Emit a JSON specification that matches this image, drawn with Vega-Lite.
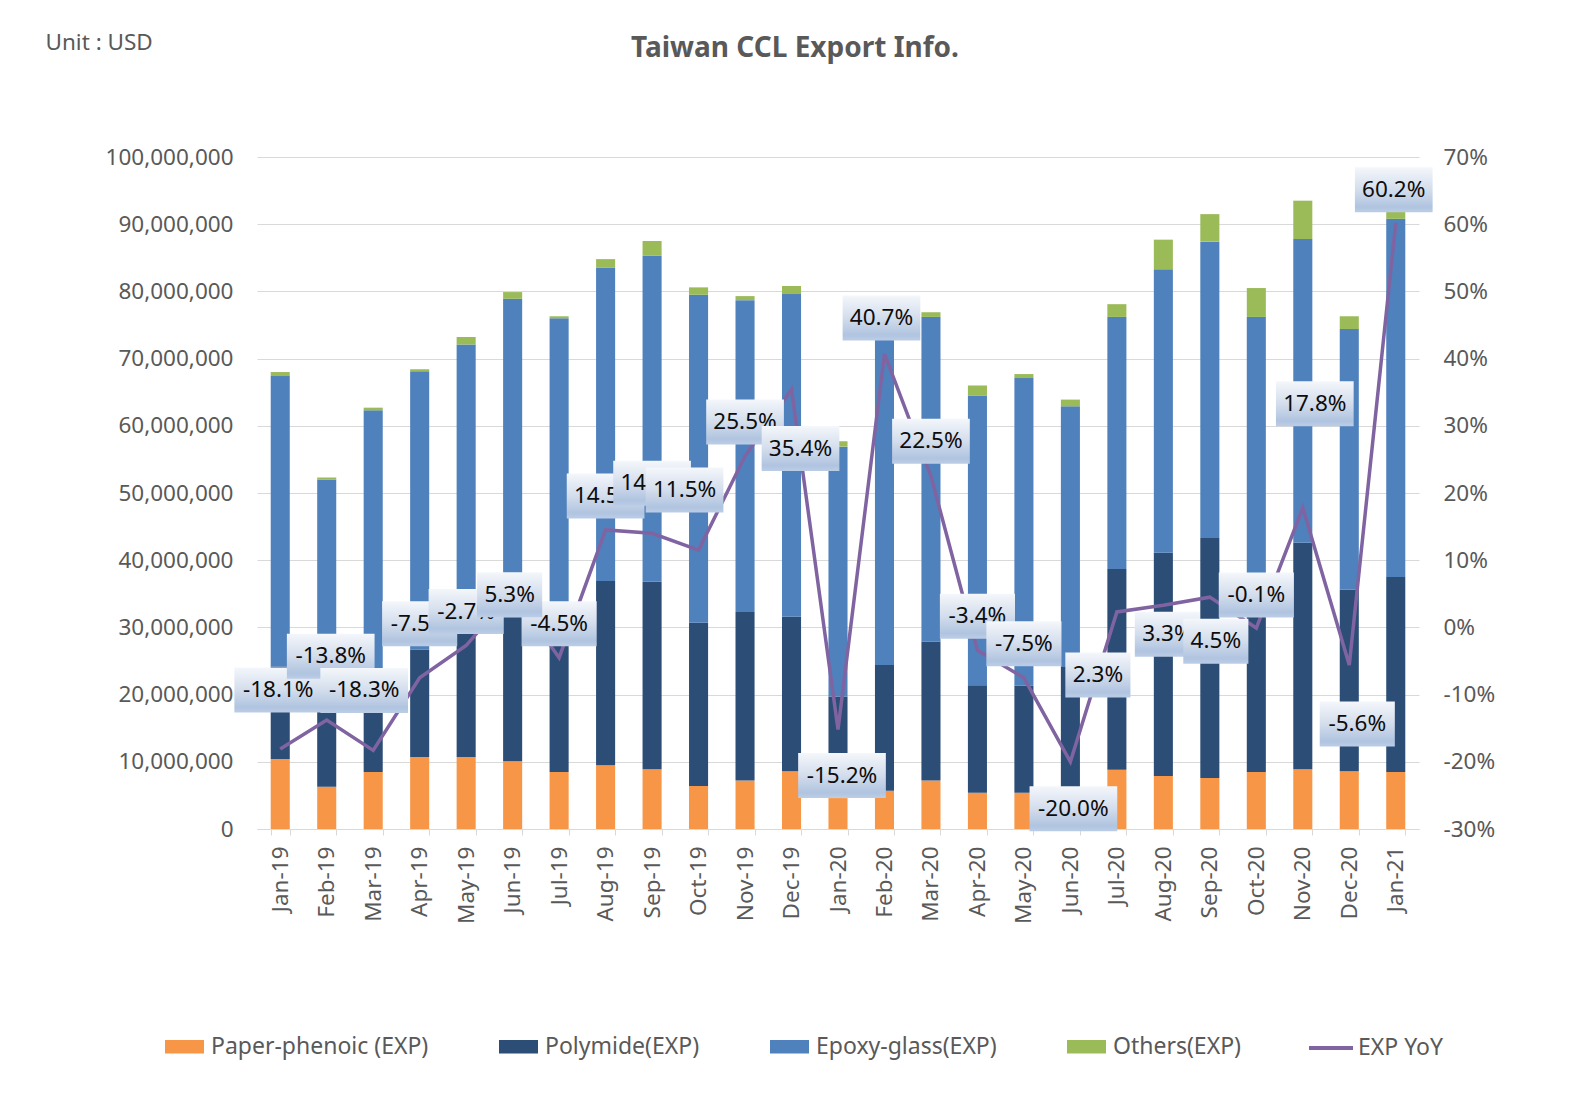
{
  "$schema": "https://vega.github.io/schema/vega-lite/v6.json",
  "width": 1162,
  "height": 672,
  "autosize": {"type": "none"},
  "padding": {"left": 257, "top": 157, "right": 176, "bottom": 267},
  "background": "white",
  "params": [
    {
      "name": "labelShift",
      "value": {
        "Jan-19": -59, "Feb-19": -64, "Mar-19": -60, "Apr-19": -54, "May-19": -34, "Jun-19": 3,
        "Jul-19": -34, "Aug-19": -34, "Sep-19": -50, "Oct-19": -60, "Nov-19": -34, "Dec-19": 59,
        "Jan-20": 46, "Feb-20": -36, "Mar-20": -35, "Apr-20": -34, "May-20": -34, "Jun-20": 47,
        "Jul-20": 63, "Aug-20": 29, "Sep-20": 44, "Oct-20": -33, "Nov-20": -104, "Dec-20": 59,
        "Jan-21": -33
      }
    },
    {
      "name": "labelNudge",
      "value": {
        "Jan-19": -2, "Feb-19": 4, "Mar-19": -9, "Apr-19": 0, "May-19": 0, "Jun-19": -3,
        "Jul-19": 0, "Aug-19": 0, "Sep-19": 0, "Oct-19": -14, "Nov-19": 0, "Dec-19": 9,
        "Jan-20": 4, "Feb-20": -3, "Mar-20": 0, "Apr-20": 0, "May-20": 0, "Jun-20": 3,
        "Jul-20": -19, "Aug-20": 4, "Sep-20": 6, "Oct-20": 0, "Nov-20": 12, "Dec-20": 8,
        "Jan-21": -2
      }
    }
  ],
  "title": {
    "text": "Taiwan CCL Export Info.",
    "anchor": "middle",
    "frame": "group",
    "dx": -43,
    "dy": 52,
    "fontSize": 28,
    "fontWeight": "bold",
    "color": "#595959",
    "offset": 20
  },
  "datasets": {
    "exports": [
      {"month": "Jan-19", "type": "Paper-phenoic (EXP)", "usd": 10400000},
      {"month": "Jan-19", "type": "Polymide(EXP)", "usd": 13800000},
      {"month": "Jan-19", "type": "Epoxy-glass(EXP)", "usd": 43200000},
      {"month": "Jan-19", "type": "Others(EXP)", "usd": 600000},
      {"month": "Feb-19", "type": "Paper-phenoic (EXP)", "usd": 6300000},
      {"month": "Feb-19", "type": "Polymide(EXP)", "usd": 15900000},
      {"month": "Feb-19", "type": "Epoxy-glass(EXP)", "usd": 29800000},
      {"month": "Feb-19", "type": "Others(EXP)", "usd": 300000},
      {"month": "Mar-19", "type": "Paper-phenoic (EXP)", "usd": 8500000},
      {"month": "Mar-19", "type": "Polymide(EXP)", "usd": 12500000},
      {"month": "Mar-19", "type": "Epoxy-glass(EXP)", "usd": 41300000},
      {"month": "Mar-19", "type": "Others(EXP)", "usd": 400000},
      {"month": "Apr-19", "type": "Paper-phenoic (EXP)", "usd": 10700000},
      {"month": "Apr-19", "type": "Polymide(EXP)", "usd": 16000000},
      {"month": "Apr-19", "type": "Epoxy-glass(EXP)", "usd": 41400000},
      {"month": "Apr-19", "type": "Others(EXP)", "usd": 300000},
      {"month": "May-19", "type": "Paper-phenoic (EXP)", "usd": 10700000},
      {"month": "May-19", "type": "Polymide(EXP)", "usd": 20300000},
      {"month": "May-19", "type": "Epoxy-glass(EXP)", "usd": 41100000},
      {"month": "May-19", "type": "Others(EXP)", "usd": 1100000},
      {"month": "Jun-19", "type": "Paper-phenoic (EXP)", "usd": 10100000},
      {"month": "Jun-19", "type": "Polymide(EXP)", "usd": 21300000},
      {"month": "Jun-19", "type": "Epoxy-glass(EXP)", "usd": 47500000},
      {"month": "Jun-19", "type": "Others(EXP)", "usd": 1000000},
      {"month": "Jul-19", "type": "Paper-phenoic (EXP)", "usd": 8500000},
      {"month": "Jul-19", "type": "Polymide(EXP)", "usd": 22000000},
      {"month": "Jul-19", "type": "Epoxy-glass(EXP)", "usd": 45500000},
      {"month": "Jul-19", "type": "Others(EXP)", "usd": 300000},
      {"month": "Aug-19", "type": "Paper-phenoic (EXP)", "usd": 9500000},
      {"month": "Aug-19", "type": "Polymide(EXP)", "usd": 27400000},
      {"month": "Aug-19", "type": "Epoxy-glass(EXP)", "usd": 46600000},
      {"month": "Aug-19", "type": "Others(EXP)", "usd": 1300000},
      {"month": "Sep-19", "type": "Paper-phenoic (EXP)", "usd": 8900000},
      {"month": "Sep-19", "type": "Polymide(EXP)", "usd": 27900000},
      {"month": "Sep-19", "type": "Epoxy-glass(EXP)", "usd": 48500000},
      {"month": "Sep-19", "type": "Others(EXP)", "usd": 2200000},
      {"month": "Oct-19", "type": "Paper-phenoic (EXP)", "usd": 6400000},
      {"month": "Oct-19", "type": "Polymide(EXP)", "usd": 24300000},
      {"month": "Oct-19", "type": "Epoxy-glass(EXP)", "usd": 48800000},
      {"month": "Oct-19", "type": "Others(EXP)", "usd": 1100000},
      {"month": "Nov-19", "type": "Paper-phenoic (EXP)", "usd": 7200000},
      {"month": "Nov-19", "type": "Polymide(EXP)", "usd": 25100000},
      {"month": "Nov-19", "type": "Epoxy-glass(EXP)", "usd": 46400000},
      {"month": "Nov-19", "type": "Others(EXP)", "usd": 600000},
      {"month": "Dec-19", "type": "Paper-phenoic (EXP)", "usd": 8600000},
      {"month": "Dec-19", "type": "Polymide(EXP)", "usd": 23000000},
      {"month": "Dec-19", "type": "Epoxy-glass(EXP)", "usd": 48000000},
      {"month": "Dec-19", "type": "Others(EXP)", "usd": 1200000},
      {"month": "Jan-20", "type": "Paper-phenoic (EXP)", "usd": 4600000},
      {"month": "Jan-20", "type": "Polymide(EXP)", "usd": 15100000},
      {"month": "Jan-20", "type": "Epoxy-glass(EXP)", "usd": 37200000},
      {"month": "Jan-20", "type": "Others(EXP)", "usd": 800000},
      {"month": "Feb-20", "type": "Paper-phenoic (EXP)", "usd": 5700000},
      {"month": "Feb-20", "type": "Polymide(EXP)", "usd": 18700000},
      {"month": "Feb-20", "type": "Epoxy-glass(EXP)", "usd": 48500000},
      {"month": "Feb-20", "type": "Others(EXP)", "usd": 700000},
      {"month": "Mar-20", "type": "Paper-phenoic (EXP)", "usd": 7200000},
      {"month": "Mar-20", "type": "Polymide(EXP)", "usd": 20700000},
      {"month": "Mar-20", "type": "Epoxy-glass(EXP)", "usd": 48300000},
      {"month": "Mar-20", "type": "Others(EXP)", "usd": 700000},
      {"month": "Apr-20", "type": "Paper-phenoic (EXP)", "usd": 5400000},
      {"month": "Apr-20", "type": "Polymide(EXP)", "usd": 16000000},
      {"month": "Apr-20", "type": "Epoxy-glass(EXP)", "usd": 43100000},
      {"month": "Apr-20", "type": "Others(EXP)", "usd": 1500000},
      {"month": "May-20", "type": "Paper-phenoic (EXP)", "usd": 5400000},
      {"month": "May-20", "type": "Polymide(EXP)", "usd": 15900000},
      {"month": "May-20", "type": "Epoxy-glass(EXP)", "usd": 45800000},
      {"month": "May-20", "type": "Others(EXP)", "usd": 600000},
      {"month": "Jun-20", "type": "Paper-phenoic (EXP)", "usd": 5200000},
      {"month": "Jun-20", "type": "Polymide(EXP)", "usd": 18900000},
      {"month": "Jun-20", "type": "Epoxy-glass(EXP)", "usd": 38800000},
      {"month": "Jun-20", "type": "Others(EXP)", "usd": 1000000},
      {"month": "Jul-20", "type": "Paper-phenoic (EXP)", "usd": 8800000},
      {"month": "Jul-20", "type": "Polymide(EXP)", "usd": 29900000},
      {"month": "Jul-20", "type": "Epoxy-glass(EXP)", "usd": 37500000},
      {"month": "Jul-20", "type": "Others(EXP)", "usd": 1900000},
      {"month": "Aug-20", "type": "Paper-phenoic (EXP)", "usd": 7900000},
      {"month": "Aug-20", "type": "Polymide(EXP)", "usd": 33200000},
      {"month": "Aug-20", "type": "Epoxy-glass(EXP)", "usd": 42200000},
      {"month": "Aug-20", "type": "Others(EXP)", "usd": 4400000},
      {"month": "Sep-20", "type": "Paper-phenoic (EXP)", "usd": 7600000},
      {"month": "Sep-20", "type": "Polymide(EXP)", "usd": 35700000},
      {"month": "Sep-20", "type": "Epoxy-glass(EXP)", "usd": 44100000},
      {"month": "Sep-20", "type": "Others(EXP)", "usd": 4100000},
      {"month": "Oct-20", "type": "Paper-phenoic (EXP)", "usd": 8500000},
      {"month": "Oct-20", "type": "Polymide(EXP)", "usd": 26000000},
      {"month": "Oct-20", "type": "Epoxy-glass(EXP)", "usd": 41700000},
      {"month": "Oct-20", "type": "Others(EXP)", "usd": 4300000},
      {"month": "Nov-20", "type": "Paper-phenoic (EXP)", "usd": 8900000},
      {"month": "Nov-20", "type": "Polymide(EXP)", "usd": 33700000},
      {"month": "Nov-20", "type": "Epoxy-glass(EXP)", "usd": 45200000},
      {"month": "Nov-20", "type": "Others(EXP)", "usd": 5700000},
      {"month": "Dec-20", "type": "Paper-phenoic (EXP)", "usd": 8600000},
      {"month": "Dec-20", "type": "Polymide(EXP)", "usd": 27000000},
      {"month": "Dec-20", "type": "Epoxy-glass(EXP)", "usd": 38800000},
      {"month": "Dec-20", "type": "Others(EXP)", "usd": 1900000},
      {"month": "Jan-21", "type": "Paper-phenoic (EXP)", "usd": 8500000},
      {"month": "Jan-21", "type": "Polymide(EXP)", "usd": 29000000},
      {"month": "Jan-21", "type": "Epoxy-glass(EXP)", "usd": 53300000},
      {"month": "Jan-21", "type": "Others(EXP)", "usd": 1600000}
    ],
    "growth": [
      {"month": "Jan-19", "yoy": -0.181},
      {"month": "Feb-19", "yoy": -0.138},
      {"month": "Mar-19", "yoy": -0.183},
      {"month": "Apr-19", "yoy": -0.075},
      {"month": "May-19", "yoy": -0.027},
      {"month": "Jun-19", "yoy": 0.053},
      {"month": "Jul-19", "yoy": -0.045},
      {"month": "Aug-19", "yoy": 0.145},
      {"month": "Sep-19", "yoy": 0.140},
      {"month": "Oct-19", "yoy": 0.115},
      {"month": "Nov-19", "yoy": 0.255},
      {"month": "Dec-19", "yoy": 0.354},
      {"month": "Jan-20", "yoy": -0.152},
      {"month": "Feb-20", "yoy": 0.407},
      {"month": "Mar-20", "yoy": 0.225},
      {"month": "Apr-20", "yoy": -0.034},
      {"month": "May-20", "yoy": -0.075},
      {"month": "Jun-20", "yoy": -0.200},
      {"month": "Jul-20", "yoy": 0.023},
      {"month": "Aug-20", "yoy": 0.033},
      {"month": "Sep-20", "yoy": 0.045},
      {"month": "Oct-20", "yoy": -0.001},
      {"month": "Nov-20", "yoy": 0.178},
      {"month": "Dec-20", "yoy": -0.056},
      {"month": "Jan-21", "yoy": 0.602}
    ]
  },
  "encoding": {
    "x": {
      "field": "month",
      "type": "nominal",
      "scale": {
        "domain": ["Jan-19","Feb-19","Mar-19","Apr-19","May-19","Jun-19","Jul-19","Aug-19","Sep-19","Oct-19","Nov-19","Dec-19","Jan-20","Feb-20","Mar-20","Apr-20","May-20","Jun-20","Jul-20","Aug-20","Sep-20","Oct-20","Nov-20","Dec-20","Jan-21"],
        "paddingInner": 0.59,
        "paddingOuter": 0.295
      },
      "axis": {
        "title": null,
        "labelAngle": -90,
        "labelFontSize": 22.5,
        "labelColor": "#595959",
        "labelPadding": 11,
        "tickColor": "#d9d9d9",
        "tickSize": 6,
        "tickBand": "extent",
        "domainColor": "#d9d9d9",
        "grid": false
      }
    }
  },
  "layer": [
    {
      "data": {"name": "exports"},
      "transform": [
        {"window": [{"op": "row_number", "as": "stackRank"}], "groupby": ["month"]}
      ],
      "mark": {"type": "bar"},
      "encoding": {
        "y": {
          "field": "usd",
          "type": "quantitative",
          "stack": "zero",
          "scale": {"domain": [0, 100000000]},
          "axis": {
            "title": "Unit : USD",
            "titleAngle": 0,
            "titleAlign": "left",
            "titleBaseline": "middle",
            "titleX": -212,
            "titleY": -115,
            "titleFontSize": 22.5,
            "titleFontWeight": "normal",
            "titleColor": "#595959",
            "values": [0, 10000000, 20000000, 30000000, 40000000, 50000000, 60000000, 70000000, 80000000, 90000000, 100000000],
            "format": ",d",
            "labelFontSize": 22.5,
            "labelColor": "#595959",
            "labelPadding": 24,
            "ticks": false,
            "domain": false,
            "grid": true,
            "gridColor": "#d9d9d9",
            "gridWidth": 1
          }
        },
        "color": {
          "field": "type",
          "type": "nominal",
          "scale": {
            "domain": ["Paper-phenoic (EXP)", "Polymide(EXP)", "Epoxy-glass(EXP)", "Others(EXP)"],
            "range": ["#f79646", "#2c4d75", "#4f81bd", "#9bbb59"]
          },
          "legend": {
            "orient": "none",
            "legendX": -92,
            "legendY": 870,
            "direction": "horizontal",
            "title": null,
            "symbolType": "M-1,-0.35H1V0.35H-1Z",
            "symbolSize": 1521,
            "symbolStrokeWidth": 0,
            "labelFontSize": 23,
            "labelColor": "#595959",
            "labelOffset": 7,
            "labelLimit": 400,
            "columnPadding": 70,
            "padding": 0
          }
        },
        "order": {"field": "stackRank", "type": "quantitative", "sort": "ascending"}
      }
    },
    {
      "data": {"name": "growth"},
      "encoding": {
        "y": {
          "field": "yoy",
          "type": "quantitative",
          "scale": {"domain": [-0.3, 0.7]},
          "axis": {
            "orient": "right",
            "title": null,
            "values": [-0.3, -0.2, -0.1, 0, 0.1, 0.2, 0.3, 0.4, 0.5, 0.6, 0.7],
            "format": ".0%",
            "labelFontSize": 22.5,
            "labelColor": "#595959",
            "labelPadding": 24,
            "ticks": false,
            "domain": false,
            "grid": false
          }
        }
      },
      "layer": [
        {
          "mark": {"type": "line", "strokeWidth": 3.5},
          "encoding": {
            "stroke": {
              "datum": "EXP YoY",
              "type": "nominal",
              "scale": {"range": ["#8064a2"]},
              "legend": {
                "orient": "none",
                "legendX": 1050,
                "legendY": 867,
                "title": null,
                "symbolType": "M-1,0H1",
                "symbolSize": 1936,
                "symbolStrokeWidth": 4,
                "labelFontSize": 23,
                "labelColor": "#595959",
                "labelOffset": 3,
                "labelLimit": 300,
                "padding": 0
              }
            }
          }
        },
        {
          "transform": [
            {"filter": {"not": {"field": "month", "oneOf": ["Feb-19","May-19","Sep-19","Dec-19","May-20","Sep-20","Mar-19","Jun-19","Oct-19"]}}}
          ],
          "layer": [
            {
              "mark": {
                "type": "rect",
                "height": 45,
                "width": {"expr": "39.9 + 12.6 * (length(format(datum.yoy, '.1%')) - 2) - (datum.yoy < 0 ? 2.6 : 0)"},
                "xOffset": {"expr": "labelNudge[datum.month]"},
                "yOffset": {"expr": "labelShift[datum.month]"},
                "fill": {"gradient": "linear", "x1": 0, "y1": 0, "x2": 0, "y2": 1, "stops": [{"offset": 0, "color": "#f4f7fb"}, {"offset": 0.5, "color": "#d3ddec"}, {"offset": 0.88, "color": "#b0c4e0"}, {"offset": 1, "color": "#bccde6"}]}
              }
            },
            {
              "mark": {"type": "text", "fontSize": 22.5, "color": "#0d0d0d", "baseline": "middle", "xOffset": {"expr": "labelNudge[datum.month]"}, "yOffset": {"expr": "labelShift[datum.month]"}},
              "encoding": {"text": {"field": "yoy", "format": ".1%"}}
            }
          ]
        },
        {
          "transform": [
            {"filter": {"field": "month", "oneOf": ["Feb-19","May-19","Sep-19","Dec-19","May-20","Sep-20"]}}
          ],
          "layer": [
            {
              "mark": {
                "type": "rect",
                "height": 45,
                "width": {"expr": "39.9 + 12.6 * (length(format(datum.yoy, '.1%')) - 2) - (datum.yoy < 0 ? 2.6 : 0)"},
                "xOffset": {"expr": "labelNudge[datum.month]"},
                "yOffset": {"expr": "labelShift[datum.month]"},
                "fill": {"gradient": "linear", "x1": 0, "y1": 0, "x2": 0, "y2": 1, "stops": [{"offset": 0, "color": "#f4f7fb"}, {"offset": 0.5, "color": "#d3ddec"}, {"offset": 0.88, "color": "#b0c4e0"}, {"offset": 1, "color": "#bccde6"}]}
              }
            },
            {
              "mark": {"type": "text", "fontSize": 22.5, "color": "#0d0d0d", "baseline": "middle", "xOffset": {"expr": "labelNudge[datum.month]"}, "yOffset": {"expr": "labelShift[datum.month]"}},
              "encoding": {"text": {"field": "yoy", "format": ".1%"}}
            }
          ]
        },
        {
          "transform": [
            {"filter": {"field": "month", "oneOf": ["Mar-19","Jun-19","Oct-19"]}}
          ],
          "layer": [
            {
              "mark": {
                "type": "rect",
                "height": 45,
                "width": {"expr": "39.9 + 12.6 * (length(format(datum.yoy, '.1%')) - 2) - (datum.yoy < 0 ? 2.6 : 0)"},
                "xOffset": {"expr": "labelNudge[datum.month]"},
                "yOffset": {"expr": "labelShift[datum.month]"},
                "fill": {"gradient": "linear", "x1": 0, "y1": 0, "x2": 0, "y2": 1, "stops": [{"offset": 0, "color": "#f4f7fb"}, {"offset": 0.5, "color": "#d3ddec"}, {"offset": 0.88, "color": "#b0c4e0"}, {"offset": 1, "color": "#bccde6"}]}
              }
            },
            {
              "mark": {"type": "text", "fontSize": 22.5, "color": "#0d0d0d", "baseline": "middle", "xOffset": {"expr": "labelNudge[datum.month]"}, "yOffset": {"expr": "labelShift[datum.month]"}},
              "encoding": {"text": {"field": "yoy", "format": ".1%"}}
            }
          ]
        }
      ]
    }
  ],
  "resolve": {"scale": {"y": "independent"}},
  "config": {
    "font": "Noto Sans",
    "view": {"stroke": null},
    "locale": {
      "number": {"decimal": ".", "thousands": ",", "grouping": [3], "currency": ["$", ""], "minus": "-"}
    }
  }
}
